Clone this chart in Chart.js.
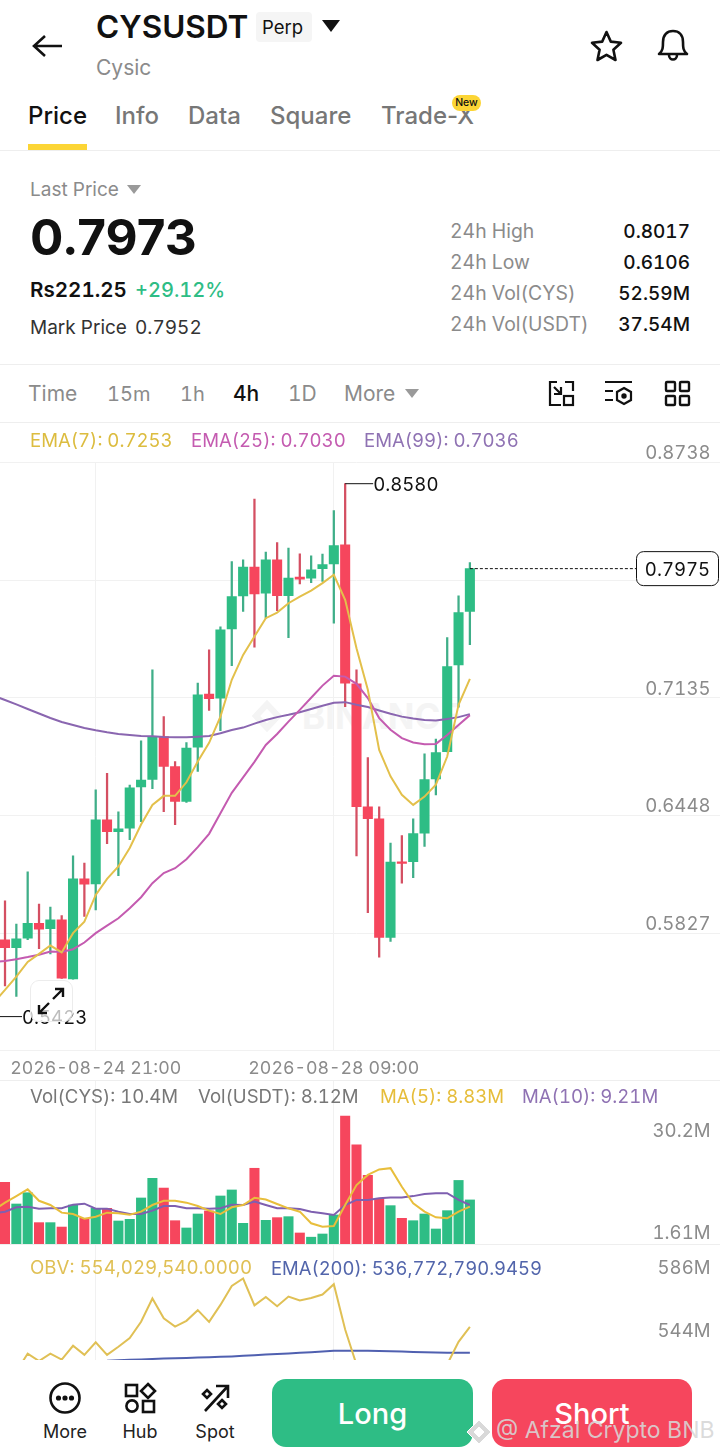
<!DOCTYPE html>
<html>
<head>
<meta charset="utf-8">
<title>CYSUSDT Perp</title>
<script src="https://cdn.jsdelivr.net/npm/chart.js@4/dist/chart.umd.min.js"></script>
<style>
  html, body { margin: 0; padding: 0; background: #fff; }
  #page { position: relative; width: 720px; height: 1456px; overflow: hidden; font-family: Inter, sans-serif; color: #111; font-feature-settings: "tnum"; }
  .t { position: absolute; white-space: nowrap; line-height: 1; }
  .r { transform: translateX(-100%); }
  .c { transform: translateX(-50%); }
  .gray { color: #8b8b8b; }
  .tab { font-feature-settings: normal; }
  .rule { position: absolute; left: 0; width: 720px; height: 1px; background: #eeeeee; }
  canvas { position: absolute; left: -12px; }
  svg { position: absolute; overflow: visible; }
  #nav { position: absolute; left: 0; top: 1360px; width: 720px; height: 96px; background: #fff; }
  .btn { position: absolute; top: 1379px; height: 68px; border-radius: 14px; color: #fff; font-size: 29px; font-weight: 500; text-align: center; line-height: 70px; }
</style>
</head>
<body>
<div id="page">
  <div class="t" id="wm" style="left:302px;top:699px;font-size:35px;font-weight:700;color:#f4f4f4;font-feature-settings:normal">BINANCE</div>
  <svg style="left:250px;top:698px" width="34" height="36" viewBox="0 0 40 40" preserveAspectRatio="none"><path d="M20 2 L38 20 L20 38 L2 20 Z M20 12 L12 20 L20 28 L28 20 Z" fill="#f4f4f4" fill-rule="evenodd"/></svg>

  <canvas id="priceChart" style="top:430px"></canvas>
  <canvas id="volChart" style="top:1080px"></canvas>
  <canvas id="obvChart" style="top:1244px"></canvas>

  <!-- header -->
  <svg style="left:32px;top:34px" width="30" height="24" viewBox="0 0 30 24" fill="none" stroke="#111" stroke-width="2.6"><path d="M13 2 L2 12 L13 22 M2 12 H30"/></svg>
  <div class="t" style="left:96px;top:11px;font-size:31.5px;font-weight:600;font-feature-settings:normal">CYSUSDT</div>
  <div style="position:absolute;left:256px;top:12px;width:56px;height:30px;background:#f5f5f5;border-radius:4px"></div>
  <div class="t" style="left:262px;top:18px;font-size:18.5px">Perp</div>
  <svg style="left:322px;top:20px" width="18" height="12"><path d="M0 0 H18 L9 12 Z" fill="#111"/></svg>
  <div class="t gray" style="left:96px;top:57px;font-size:21px">Cysic</div>
  <svg style="left:590px;top:30px" width="33" height="32" viewBox="0 0 33 32" fill="none" stroke="#111" stroke-width="2.6" stroke-linejoin="round"><path d="M16.5 2 L20.8 11.6 L31 12.8 L23.4 19.8 L25.5 30 L16.5 24.8 L7.5 30 L9.6 19.8 L2 12.8 L12.2 11.6 Z"/></svg>
  <svg style="left:657px;top:29px" width="32" height="34" viewBox="0 0 32 34" fill="none" stroke="#111" stroke-width="2.6" stroke-linejoin="round"><path d="M2 25 C6 22 6 18 6 13 C6 6 10 2 16 2 C22 2 26 6 26 13 C26 18 26 22 30 25 Z M12 26 C12 32 20 32 20 26"/></svg>

  <!-- tabs -->
  <div class="t tab" style="left:28px;top:104px;font-size:24px;font-weight:500">Price</div>
  <div class="t tab" style="left:115px;top:104px;font-size:24px;font-weight:500;color:#777">Info</div>
  <div class="t tab" style="left:188px;top:104px;font-size:24px;font-weight:500;color:#777">Data</div>
  <div class="t tab" style="left:270px;top:104px;font-size:24px;font-weight:500;color:#777">Square</div>
  <div class="t tab" style="left:381px;top:104px;font-size:24px;font-weight:500;color:#777">Trade-X</div>
  <div style="position:absolute;left:452px;top:95px;width:29px;height:16px;border-radius:8px;background:#fcd535"></div>
  <div class="t c tab" style="left:466.5px;top:98px;font-size:10.5px;font-weight:500">New</div>
  <div style="position:absolute;left:28px;top:144px;width:59px;height:6px;background:#fcd535"></div>
  <div class="rule" style="top:150px"></div>

  <!-- price summary -->
  <div class="t gray" style="left:30px;top:180px;font-size:19px">Last Price</div>
  <svg style="left:127px;top:185px" width="14" height="9"><path d="M0 0 H14 L7 9 Z" fill="#9a9a9a"/></svg>
  <div class="t" style="left:30px;top:213px;font-size:49.5px;font-weight:700;font-feature-settings:normal">0.7973</div>
  <div class="t" style="left:30px;top:280px;font-size:20.6px;font-weight:600">Rs221.25</div>
  <div class="t" style="left:135px;top:280px;font-size:20px;font-weight:500;color:#2ebd85">+29.12%</div>
  <div class="t" style="left:30px;top:318px;font-size:19px;color:#333">Mark Price</div>
  <div class="t" style="left:135px;top:318px;font-size:19px;color:#333">0.7952</div>
  <div class="t gray" style="left:450px;top:222px;font-size:19.4px">24h High</div>
  <div class="t gray" style="left:450px;top:253px;font-size:19.4px">24h Low</div>
  <div class="t gray" style="left:450px;top:284px;font-size:19.4px">24h Vol(CYS)</div>
  <div class="t gray" style="left:450px;top:315px;font-size:19.4px">24h Vol(USDT)</div>
  <div class="t r" style="left:690px;top:222px;font-size:19px;font-weight:500">0.8017</div>
  <div class="t r" style="left:690px;top:253px;font-size:19px;font-weight:500">0.6106</div>
  <div class="t r" style="left:690px;top:284px;font-size:19px;font-weight:500">52.59M</div>
  <div class="t r" style="left:690px;top:315px;font-size:19px;font-weight:500">37.54M</div>
  <div class="rule" style="top:364px"></div>

  <!-- interval row -->
  <div class="t gray" style="left:28px;top:383px;font-size:21px">Time</div>
  <div class="t gray" style="left:107px;top:384px;font-size:20px">15m</div>
  <div class="t gray" style="left:180px;top:384px;font-size:20px">1h</div>
  <div class="t" style="left:233px;top:383px;font-size:21px;font-weight:500">4h</div>
  <div class="t gray" style="left:288px;top:383px;font-size:21px">1D</div>
  <div class="t gray" style="left:344px;top:383px;font-size:21px">More</div>
  <svg style="left:405px;top:389px" width="14" height="9"><path d="M0 0 H14 L7 9 Z" fill="#9a9a9a"/></svg>
  <svg style="left:549px;top:381px" width="25" height="25" viewBox="0 0 25 25" fill="none" stroke="#111" stroke-width="2.2"><path d="M8 1 H1 V24 H12 M16 1 H24 V10 M5 6 L12 13 M12 6 V13 H5"/><rect x="15" y="15" width="9" height="9"/></svg>
  <svg style="left:605px;top:381px" width="28" height="25" viewBox="0 0 28 25" fill="none" stroke="#111" stroke-width="2.2"><path d="M0 1 H27 M0 10 H8 M0 19 H8"/><path d="M19 7 L26 11 V19 L19 23 L12 19 V11 Z"/><circle cx="19" cy="15" r="1.6" fill="#111"/></svg>
  <svg style="left:665px;top:381px" width="25" height="25" viewBox="0 0 25 25" fill="none" stroke="#111" stroke-width="2.4"><rect x="1" y="1" width="9" height="9" rx="1"/><rect x="15" y="1" width="9" height="9" rx="1"/><rect x="1" y="15" width="9" height="9" rx="1"/><rect x="15" y="15" width="9" height="9" rx="1"/></svg>
  <div class="rule" style="top:422px"></div>

  <!-- price legend -->
  <div class="t" style="left:30px;top:431px;font-size:18.6px;color:#dcbc3f">EMA(7): 0.7253</div>
  <div class="t" style="left:191px;top:431px;font-size:18.6px;color:#c45bb0">EMA(25): 0.7030</div>
  <div class="t" style="left:364px;top:431px;font-size:18.6px;color:#8f72b3">EMA(99): 0.7036</div>

  <!-- expand button over the low label -->
  <div style="position:absolute;left:30px;top:980px;width:41px;height:40px;border-radius:9px;border:1px solid #ececec;background:rgba(255,255,255,.72)"></div>
  <svg style="left:38px;top:988px" width="26" height="26" viewBox="0 0 26 26" fill="none" stroke="#111" stroke-width="2.4"><path d="M15 11 L25 1 M17 1 H25 V9 M11 15 L1 25 M1 17 V25 H9"/></svg>

  <!-- volume and obv legends -->
  <div class="rule" style="top:1080px"></div>
  <div class="t" style="left:30px;top:1087px;font-size:18.6px;color:#777">Vol(CYS): 10.4M</div>
  <div class="t" style="left:198px;top:1087px;font-size:18.6px;color:#777">Vol(USDT): 8.12M</div>
  <div class="t" style="left:380px;top:1087px;font-size:18.6px;color:#e6bd3a">MA(5): 8.83M</div>
  <div class="t" style="left:522px;top:1087px;font-size:18.6px;color:#8f72b3">MA(10): 9.21M</div>
  <div class="rule" style="top:1244px"></div>
  <div class="t" style="left:30px;top:1259px;font-size:18.7px;color:#e0c055">OBV: 554,029,540.0000</div>
  <div class="t" style="left:271px;top:1259px;font-size:18.45px;color:#5265ab">EMA(200): 536,772,790.9459</div>

  <!-- bottom nav -->
  <div id="nav"></div>
  <svg style="left:49px;top:1382px" width="32" height="32" viewBox="0 0 32 32" fill="none" stroke="#111" stroke-width="2.6"><circle cx="16" cy="16" r="14.5"/><circle cx="9.5" cy="16" r="1.3" fill="#111"/><circle cx="16" cy="16" r="1.3" fill="#111"/><circle cx="22.5" cy="16" r="1.3" fill="#111"/></svg>
  <svg style="left:125px;top:1383px" width="31" height="30" viewBox="0 0 31 30" fill="none" stroke="#111" stroke-width="2.6"><rect x="1" y="2" width="11" height="11"/><path d="M23 1 L30 8 L23 15 L16 8 Z"/><circle cx="7" cy="23" r="5.6"/><rect x="18" y="18" width="11" height="11"/></svg>
  <svg style="left:201px;top:1384px" width="29" height="28" viewBox="0 0 29 28" fill="none" stroke="#111" stroke-width="2.6"><path d="M4 27 L27 2 M15 2 H27 V14"/><path d="M6 6 L10 10 L6 14 L2 10 Z M21 16 L25 20 L21 24 L17 20 Z"/></svg>
  <div class="t c" style="left:65px;top:1423px;font-size:18px;color:#222">More</div>
  <div class="t c" style="left:140px;top:1423px;font-size:18px;color:#222">Hub</div>
  <div class="t c" style="left:215px;top:1423px;font-size:18px;color:#222">Spot</div>
  <div class="btn" style="left:272px;width:201px;background:#2ebd85">Long</div>
  <div class="btn" style="left:492px;width:200px;background:#f6465d">Short</div>

  <!-- image watermark -->
  <svg style="left:466px;top:1419px" width="26" height="26" viewBox="0 0 26 26"><path d="M13 1 L25 13 L13 25 L1 13 Z M13 8 L8 13 L13 18 L18 13 Z" fill="#d9d9d9" stroke="#fff" fill-rule="evenodd"/></svg>
  <div class="t" style="left:496px;top:1419px;font-size:23px;color:rgba(214,214,214,.88);font-feature-settings:normal">@ Afzal Crypto BNB</div>
</div>

<script>
// candle times, first one sits just off the left edge
const categories = [
    "2026-08-23 09:00", "2026-08-23 13:00", "2026-08-23 17:00", "2026-08-23 21:00",
    "2026-08-24 01:00", "2026-08-24 05:00", "2026-08-24 09:00", "2026-08-24 13:00", "2026-08-24 17:00", "2026-08-24 21:00",
    "2026-08-25 01:00", "2026-08-25 05:00", "2026-08-25 09:00", "2026-08-25 13:00", "2026-08-25 17:00", "2026-08-25 21:00",
    "2026-08-26 01:00", "2026-08-26 05:00", "2026-08-26 09:00", "2026-08-26 13:00", "2026-08-26 17:00", "2026-08-26 21:00",
    "2026-08-27 01:00", "2026-08-27 05:00", "2026-08-27 09:00", "2026-08-27 13:00", "2026-08-27 17:00", "2026-08-27 21:00",
    "2026-08-28 01:00", "2026-08-28 05:00", "2026-08-28 09:00", "2026-08-28 13:00", "2026-08-28 17:00", "2026-08-28 21:00",
    "2026-08-29 01:00", "2026-08-29 05:00", "2026-08-29 09:00", "2026-08-29 13:00", "2026-08-29 17:00", "2026-08-29 21:00",
    "2026-08-30 01:00", "2026-08-30 05:00", "2026-08-30 09:00",
];

const candleOpen = [null,
    0.5794, 0.5755, 0.5802, 0.5877, 0.5850, 0.5894, 0.5602, 0.6106, 0.6079, 0.6424, 0.6359, 0.6378, 0.6609, 0.6651,
    0.6901, 0.6726, 0.6526, 0.6839, 0.7159, 0.7134, 0.7572, 0.7790, 0.7985, 0.7808, 0.8035, 0.7792, 0.7917, 0.7910,
    0.7974, 0.8008, 0.8140, 0.7222, 0.6497, 0.6429, 0.5805, 0.6196, 0.6197, 0.6351, 0.6655, 0.6813, 0.7341, 0.7686];
const candleHigh = [null,
    0.5991, 0.5873, 0.6143, 0.5975, 0.5959, 0.5916, 0.6228, 0.6189, 0.6592, 0.6687, 0.6469, 0.6619, 0.6876, 0.7309,
    0.7021, 0.6755, 0.6866, 0.7226, 0.7436, 0.7585, 0.8024, 0.8035, 0.8467, 0.8089, 0.8156, 0.8117, 0.8077, 0.8063,
    0.8075, 0.8383, 0.8580, 0.7309, 0.6778, 0.6497, 0.6297, 0.6337, 0.6430, 0.6800, 0.6886, 0.7515, 0.7790, 0.8017];
const candleLow = [null,
    0.5568, 0.5518, 0.5794, 0.5749, 0.5724, 0.5604, 0.5600, 0.5911, 0.5945, 0.6293, 0.6123, 0.6315, 0.6414, 0.6599,
    0.6469, 0.6398, 0.6521, 0.6697, 0.7058, 0.6937, 0.7336, 0.7686, 0.7454, 0.7642, 0.7692, 0.7515, 0.7871, 0.7880,
    0.7887, 0.7609, 0.7082, 0.6228, 0.5931, 0.5708, 0.5785, 0.6083, 0.6112, 0.6279, 0.6564, 0.6811, 0.7079, 0.7469];
const candleClose = [null,
    0.5754, 0.5799, 0.5877, 0.5847, 0.5894, 0.5605, 0.6106, 0.6078, 0.6424, 0.6359, 0.6374, 0.6604, 0.6647, 0.6901,
    0.6726, 0.6526, 0.6833, 0.7154, 0.7130, 0.7565, 0.7785, 0.7985, 0.7803, 0.8035, 0.7792, 0.7910, 0.7903, 0.7967,
    0.8003, 0.8135, 0.7226, 0.6497, 0.6430, 0.5805, 0.6194, 0.6187, 0.6349, 0.6651, 0.6807, 0.7330, 0.7679, 0.7975];

const ema7 = [0.5487,
    0.5549, 0.5613, 0.5684, 0.5724, 0.5765, 0.5731, 0.5827, 0.5885, 0.6022, 0.6106, 0.6171, 0.6270, 0.6398, 0.6507,
    0.6558, 0.6558, 0.6635, 0.6755, 0.6864, 0.7021, 0.7247, 0.7404, 0.7522, 0.7642, 0.7679, 0.7741, 0.7785, 0.7826,
    0.7876, 0.7933, 0.7764, 0.7447, 0.7185, 0.6823, 0.6669, 0.6564, 0.6507, 0.6554, 0.6622, 0.6784, 0.7093, 0.7253];
const ema25 = [0.5684,
    0.5689, 0.5698, 0.5708, 0.5720, 0.5736, 0.5733, 0.5747, 0.5780, 0.5827, 0.5865, 0.5902, 0.5953, 0.6010, 0.6083,
    0.6136, 0.6162, 0.6210, 0.6275, 0.6347, 0.6461, 0.6575, 0.6663, 0.6753, 0.6852, 0.6917, 0.6991, 0.7062, 0.7136,
    0.7211, 0.7273, 0.7267, 0.7222, 0.7134, 0.7012, 0.6942, 0.6892, 0.6866, 0.6856, 0.6858, 0.6911, 0.6971, 0.7030];
const ema99 = [0.7148,
    0.7122, 0.7095, 0.7067, 0.7040, 0.7013, 0.6989, 0.6971, 0.6953, 0.6939, 0.6927, 0.6917, 0.6911, 0.6905, 0.6903,
    0.6899, 0.6897, 0.6897, 0.6901, 0.6905, 0.6921, 0.6941, 0.6955, 0.6979, 0.7001, 0.7018, 0.7032, 0.7048, 0.7067,
    0.7087, 0.7105, 0.7109, 0.7093, 0.7079, 0.7058, 0.7038, 0.7021, 0.7009, 0.7001, 0.6997, 0.7007, 0.7018, 0.7036];

// values in millions
const volume = [null,
    14.55, 9.44, 12.1, 5.04, 5.04, 4.0, 9.2, 6.06, 8.42, 8.42, 5.43, 5.82, 10.86, 15.5,
    13.2, 5.5, 3.78, 7.08, 7.8, 11.33, 12.75, 4.88, 17.87, 5.59, 6.22, 6.45, 2.6, 1.61,
    2.36, 6.85, 30.2, 23.4, 16.2, 10.6, 9.05, 6.06, 5.5, 7.08, 3.54, 7.87, 15.0, 10.4];
const volMa5 = [8.0,
    9.76, 11.3, 12.9, 10.2, 9.2, 7.4, 7.08, 5.98, 6.45, 7.4, 7.24, 6.93, 7.63, 9.2,
    10.2, 10.2, 9.76, 8.97, 7.87, 7.08, 8.66, 9.2, 10.9, 10.5, 9.44, 8.42, 7.63, 4.88,
    4.09, 4.25, 9.2, 13.9, 16.3, 17.6, 17.9, 13.5, 9.6, 7.63, 6.3, 6.06, 7.63, 8.83];
const volMa10 = [7.24,
    7.63, 8.66, 8.81, 8.34, 8.42, 8.42, 9.29, 9.52, 8.34, 8.34, 7.63, 7.08, 7.08, 7.87,
    8.97, 8.97, 8.42, 8.42, 8.34, 8.42, 9.29, 9.2, 10.0, 9.2, 8.42, 8.42, 8.26, 7.63,
    7.24, 6.85, 9.2, 10.4, 10.4, 10.8, 11.0, 11.0, 11.3, 11.8, 12.0, 12.0, 10.4, 9.21];

const obv = [529.3,
    514.8, 524.2, 536.3, 531.3, 536.3, 532.3, 541.5, 535.4, 543.8, 535.4, 540.8, 546.6, 557.5, 573.0,
    559.8, 554.3, 558.1, 565.2, 557.4, 568.7, 581.4, 586.3, 568.4, 574.0, 567.8, 574.3, 571.7, 573.3,
    575.6, 582.5, 552.3, 528.9, 512.7, 502.1, 511.2, 505.1, 510.6, 517.7, 521.2, 529.1, 544.1, 554.03];
const obvEma200 = [530.5,
    530.6, 530.7, 530.8, 530.9, 531.0, 531.1, 531.2, 531.3, 531.4, 531.5, 531.8, 532.1, 532.4, 532.7,
    533.0, 533.2, 533.4, 533.6, 533.8, 534.1, 534.4, 534.8, 535.2, 535.6, 536.0, 536.4, 536.8, 537.2,
    537.7, 538.2, 538.2, 538.2, 538.2, 538.0, 537.8, 537.6, 537.4, 537.2, 537.0, 536.9, 536.8, 536.77];

const priceTicks = [0.8738, 0.7895, 0.7135, 0.6448, 0.5827, 0.5267];
const priceTickLabels = ["0.8738", "", "0.7135", "0.6448", "0.5827", ""];
const dateTickIndexes = [9, 30];
const highMark = { index: 31, value: 0.8580, label: "0.8580" };
const lowMark = { value: 0.5423, label: "0.5423" };
const lastPrice = { index: 42, value: 0.7975, label: "0.7975" };

const GREEN = "#2ebd85";
const RED = "#f6465d";
const GRID = "#f1f1f1";
const FONT = "Inter";
const SLOTS = 65; // candles plus the empty room on the right

const upDown = (up, down) => candleClose.map((c, i) => (c >= candleOpen[i] ? up : down));
const labels = categories.concat(new Array(SLOTS - categories.length).fill(""));

function lineSet(data, color, yAxisID) {
    return { type: "line", data, borderColor: color, borderWidth: 2, pointRadius: 0, tension: 0, order: 1, yAxisID: yAxisID || "y" };
}

// shared x axis: only the two dated grid lines are kept
function xAxis(showLabels) {
    return {
        type: "category",
        offset: true,
        border: { display: false },
        grid: { color: GRID, offset: false, drawTicks: false },
        afterBuildTicks: (scale) => { scale.ticks = dateTickIndexes.map((i) => ({ value: i })); },
        afterFit: (scale) => { if (showLabels) scale.height = 30.5; },
        ticks: {
            display: showLabels,
            autoSkip: false,
            maxRotation: 0,
            padding: 7,
            color: "#8b8b8b",
            font: { family: FONT, size: 17.8 },
        },
    };
}

// y axis with its labels printed inside the plot, nudged off the value
function yAxis(min, max, tickValues, tickLabels, labelOffset, showGrid, type) {
    return {
        type: type || "linear",
        position: "right",
        min,
        max,
        border: { display: false },
        grid: { display: showGrid, color: GRID, drawTicks: false },
        afterBuildTicks: (scale) => { scale.ticks = tickValues.map((v) => ({ value: v })); },
        afterFit: (scale) => { scale.width = 0; },
        ticks: {
            mirror: true,
            padding: -14.5,
            labelOffset,
            autoSkip: false,
            color: "#8b8b8b",
            font: { family: FONT, size: 18.6 },
            callback: (value, index) => tickLabels[index],
        },
    };
}

const baseOptions = {
    responsive: false,
    animation: false,
    layout: { padding: 0 },
    plugins: { legend: { display: false }, tooltip: { enabled: false } },
};

// high, low and last price markers
const priceMarks = {
    id: "priceMarks",
    afterDatasetsDraw(chart) {
        const { ctx, scales: { x, y } } = chart;
        ctx.save();
        ctx.font = "18.6px " + FONT;
        ctx.textBaseline = "middle";
        ctx.fillStyle = "#111";
        ctx.strokeStyle = "#111";
        ctx.lineWidth = 1;

        const highY = y.getPixelForValue(highMark.value);
        const highX = x.getPixelForValue(highMark.index);
        ctx.beginPath();
        ctx.moveTo(highX, highY);
        ctx.lineTo(highX + 28, highY);
        ctx.stroke();
        ctx.fillText(highMark.label, highX + 28, highY + 1.5);

        const lowY = y.getPixelForValue(lowMark.value);
        ctx.beginPath();
        ctx.moveTo(0, lowY);
        ctx.lineTo(34, lowY);
        ctx.stroke();
        ctx.fillText(lowMark.label, 34, lowY + 1.5);

        const lastY = y.getPixelForValue(lastPrice.value);
        ctx.setLineDash([3, 2]);
        ctx.beginPath();
        ctx.moveTo(x.getPixelForValue(lastPrice.index), lastY);
        ctx.lineTo(649, lastY);
        ctx.stroke();
        ctx.setLineDash([]);
        ctx.beginPath();
        ctx.roundRect(648.5, lastY - 17, 82, 34, 7);
        ctx.fillStyle = "#fff";
        ctx.fill();
        ctx.stroke();
        ctx.fillStyle = "#111";
        ctx.textAlign = "center";
        ctx.fillText(lastPrice.label, 689.5, lastY + 1.5);
        ctx.restore();
    },
};

function makeCanvas(id, height) {
    const canvas = document.getElementById(id);
    canvas.width = 737;
    canvas.height = height;
    canvas.style.width = "737px";
    canvas.style.height = height + "px";
    return canvas;
}

new Chart(makeCanvas("priceChart", 651), {
    type: "bar",
    data: {
        labels,
        datasets: [
            lineSet(ema7, "#e3c04b"),
            lineSet(ema25, "#c45bb0"),
            lineSet(ema99, "#8a66b0"),
            {
                data: candleOpen.map((o, i) => (o === null ? null : [o, candleClose[i]])),
                backgroundColor: upDown(GREEN, RED),
                barThickness: 9.4,
                grouped: false,
                order: 2,
            },
            {
                data: candleLow.map((l, i) => (l === null ? null : [l, candleHigh[i]])),
                backgroundColor: upDown("#3fae88", "#d44f62"),
                barThickness: 1.6,
                grouped: false,
                order: 3,
            },
        ],
    },
    options: {
        ...baseOptions,
        layout: { padding: { top: 32.5 } },
        scales: {
            x: xAxis(true),
            y: yAxis(0.5267, 0.8738, priceTicks, priceTickLabels, -9, true, "logarithmic"),
        },
    },
    plugins: [priceMarks],
});

new Chart(makeCanvas("volChart", 164), {
    type: "bar",
    data: {
        labels,
        datasets: [
            lineSet(volMa5, "#e8be3c"),
            lineSet(volMa10, "#7e5fb0"),
            {
                data: volume,
                backgroundColor: upDown(GREEN, RED),
                barThickness: 9.4,
                order: 2,
            },
        ],
    },
    options: {
        ...baseOptions,
        scales: {
            x: xAxis(false),
            y: yAxis(0, 38.7, [30.2], ["30.2M"], 15, false),
            yLow: yAxis(0, 38.7, [1.61], ["1.61M"], -4, false),
        },
    },
});

new Chart(makeCanvas("obvChart", 116), {
    type: "line",
    data: {
        labels,
        datasets: [
            lineSet(obv, "#e0c055"),
            lineSet(obvEma200, "#5060b0"),
        ],
    },
    options: {
        ...baseOptions,
        scales: {
            x: xAxis(false),
            y: yAxis(532, 609.3, [586, 544], ["586M", "544M"], -10.5, false),
        },
    },
});
</script>
</body>
</html>
